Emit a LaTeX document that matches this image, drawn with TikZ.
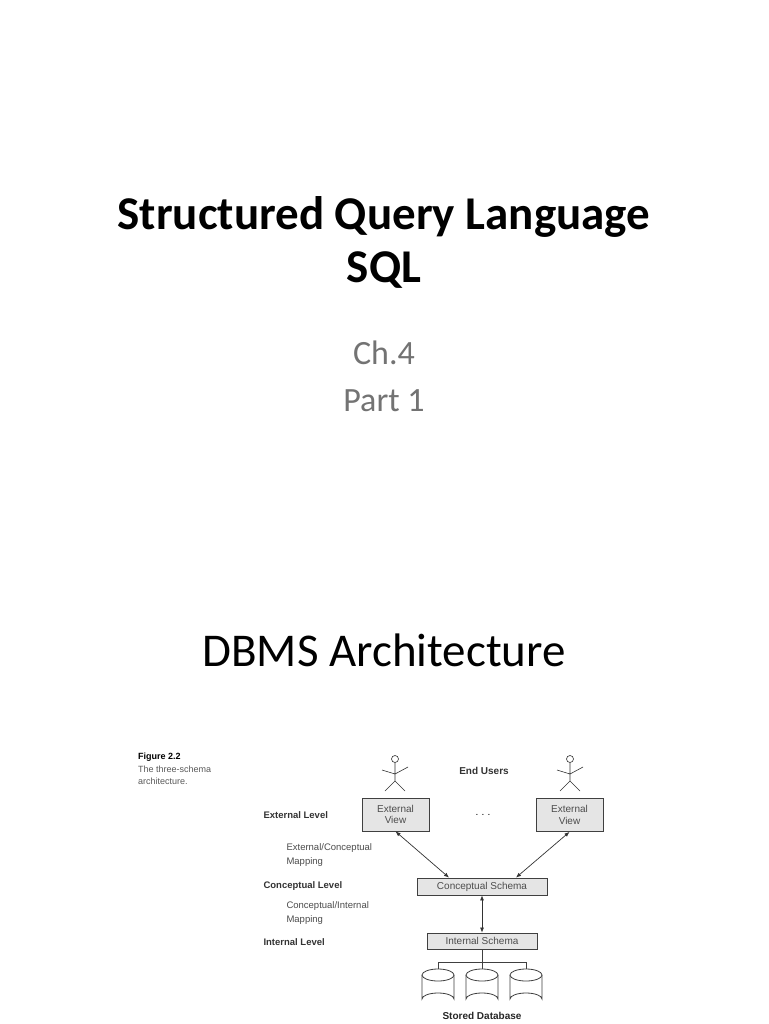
\documentclass[tikz,border=0pt]{standalone}
\usepackage{fontspec}
\setmainfont{Carlito}
\newfontfamily\dsans{Liberation Sans}
\usetikzlibrary{arrows.meta}
\begin{document}
\begin{tikzpicture}[x=1pt,y=-1pt,
  sbox/.style={draw=black!75,fill=black!10,line width=0.8pt,font=\dsans\fontsize{10}{11.5}\selectfont,text=black!70,inner sep=0pt,align=center},
  lvl/.style={anchor=west,font=\dsans\bfseries\fontsize{9.5}{11}\selectfont,text=black!80},
  mp/.style={anchor=west,font=\dsans\fontsize{9.5}{13.5}\selectfont,text=black!70,align=left},
  arr/.style={{Latex[length=5pt,width=4pt]}-{Latex[length=5pt,width=4pt]},line width=0.7pt,black!80},
  cylline/.style={draw=black!75,line width=0.8pt,fill=white}]
\useasboundingbox (0,0) rectangle (768,1024);
\fill[white] (0,0) rectangle (768,1024);
\node[font=\bfseries\fontsize{47}{53}\selectfont,align=center] (title) at (384,242) {Structured Query Language\\SQL};
\node[font=\fontsize{34}{47}\selectfont,text=black!55,align=center] (sub) at (384,376) {Ch.4\\Part 1};
\node[font=\fontsize{47}{53}\selectfont] (dbms) at (384,650) {DBMS Architecture};
\node[anchor=north west,font=\dsans\fontsize{9}{12.5}\selectfont,align=left,inner sep=0pt] (fig) at (138,753) {\textbf{Figure 2.2}\\\textcolor{black!65}{The three-schema}\\\textcolor{black!65}{architecture.}};
% stick figures
\foreach \n/\x in {ua/395,ub/570}{
  \draw[black!80,line width=0.6pt,fill=white] (\x,759) circle (3.5);
  \draw[black!80,line width=0.6pt] (\x,762.5) -- (\x,781) (\x-13,770) -- (\x,774) -- (\x+13,767) (\x-10,791) -- (\x,781) -- (\x+10,791);
  \coordinate (\n) at (\x,791);
}
\node[font=\dsans\bfseries\fontsize{10}{11}\selectfont,text=black!80] (eu) at (484,771) {End Users};
\node[sbox,minimum width=67pt,minimum height=33pt] (ev1) at (395.5,814.5) {External\\View};
\node[sbox,minimum width=67pt,minimum height=33pt] (ev2) at (569.5,815) {External\\View};
\node[font=\dsans\fontsize{10}{11}\selectfont] (dots) at (483,815) {.\,\,.\,\,.};
\node[sbox,minimum width=130pt,minimum height=17pt] (cs) at (482,886.5) {Conceptual Schema};
\node[sbox,minimum width=110pt,minimum height=16pt] (is) at (482,941) {Internal Schema};
\node[lvl] (el) at (260,815) {External Level};
\node[lvl] (cl) at (260,886) {Conceptual Level};
\node[lvl] (il) at (260,942) {Internal Level};
\node[mp] (m1) at (283,855) {External/Conceptual\\Mapping};
\node[mp] (m2) at (283,913) {Conceptual/Internal\\Mapping};
\draw[arr] (ev1.south) -- ([xshift=-33pt]cs.north);
\draw[arr] (ev2.south) -- ([xshift=34pt]cs.north);
\draw[arr] (cs.south) -- (is.north);
\foreach \n/\x in {d1/438,d2/482,d3/526}{
  \draw[cylline] (\x-16,975) -- (\x-16,999) arc[start angle=180,end angle=360,x radius=16,y radius=6] -- (\x+16,975);
  \draw[cylline] (\x,975) ellipse[x radius=16,y radius=6];
  \coordinate (\n) at (\x,969);
}
\coordinate (j) at (482,962);
\draw[black!75,line width=0.7pt] (is.south) -- (j) (d1) |- (j) -| (d3) (j) -- (d2);
\node[font=\dsans\bfseries\fontsize{10}{11}\selectfont,text=black!85] (sd) at (482,1016) {Stored Database};
\end{tikzpicture}
\end{document}
